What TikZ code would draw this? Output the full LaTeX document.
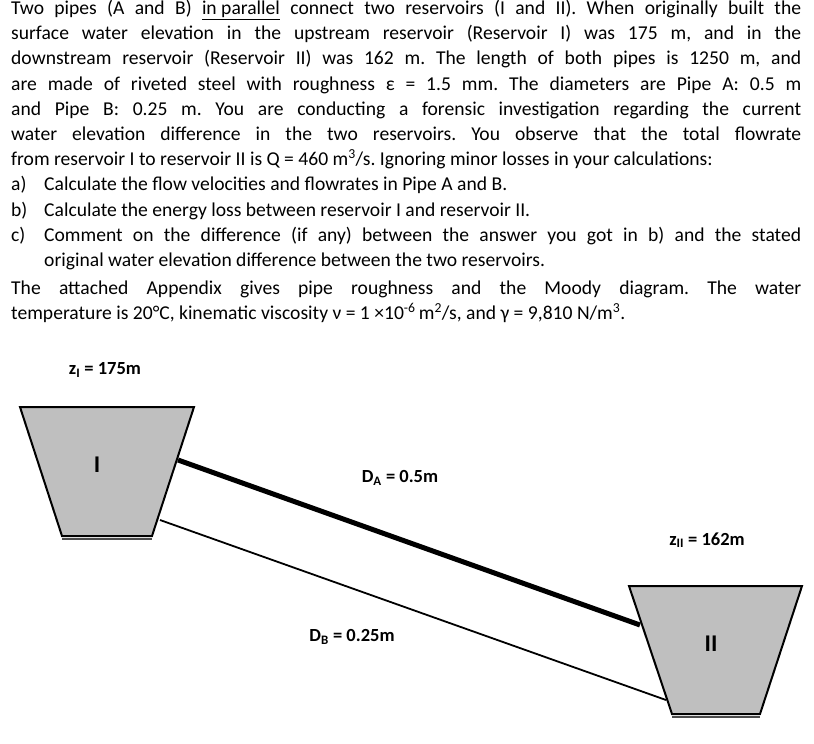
\documentclass[tikz,border=0pt]{standalone}
\usepackage{fontspec}
\setmainfont{Carlito}
\begin{document}
\begin{tikzpicture}[x=1pt,y=-1pt,
  res/.style={draw=black,line width=2pt,fill=black!25,line join=miter},
  lbl/.style={font=\fontsize{18.5}{20}\selectfont\bfseries,inner sep=0},
  pipea/.style={line width=5pt},
  pipeb/.style={line width=1.8pt}]
\useasboundingbox (0,0) rectangle (814,744);
\node[anchor=north west,text width=790pt,align=justify,inner sep=0,
  font=\fontsize{19.6}{25.2}\selectfont\frenchspacing] (txt) at (11,0) {%
Two pipes (A and B) \underline{in parallel} connect two reservoirs (I and II). When originally built the\linebreak
surface water elevation in the upstream reservoir (Reservoir I) was 175 m, and in the\linebreak
downstream reservoir (Reservoir II) was 162 m. The length of both pipes is 1250 m, and\linebreak
are made of riveted steel with roughness ε = 1.5 mm. The diameters are Pipe A: 0.5 m\linebreak
and Pipe B: 0.25 m. You are conducting a forensic investigation regarding the current\linebreak
water elevation difference in the two reservoirs. You observe that the total flowrate\linebreak
from reservoir I to reservoir II is Q = 460 m\textsuperscript{3}/s. Ignoring minor losses in your calculations:\par
\hangindent=33pt\hangafter=1\noindent\makebox[33pt][l]{a)}Calculate the flow velocities and flowrates in Pipe A and B.\par
\hangindent=33pt\hangafter=1\noindent\makebox[33pt][l]{b)}Calculate the energy loss between reservoir I and reservoir II.\par
\hangindent=33pt\hangafter=1\noindent\makebox[33pt][l]{c)}Comment on the difference (if any) between the answer you got in b) and the stated\linebreak
original water elevation difference between the two reservoirs.\par
\vspace{3pt}\noindent The attached Appendix gives pipe roughness and the Moody diagram. The water\linebreak
temperature is 20°C, kinematic viscosity ν = 1 ×10\textsuperscript{-6}\,m\textsuperscript{2}/s, and γ = 9,810 N/m\textsuperscript{3}.\par};
% reservoirs
\draw[res] (20,407) -- (194,407) -- (152,536) -- (62,536) -- cycle;
\draw[res] (629,586) -- (802,586) -- (760,714) -- (672,714) -- cycle;
\draw[line width=2pt,black!70] (62,539) -- (152,539);
\draw[line width=2pt,black!70] (672,717) -- (760,717);
\node[lbl,font=\fontsize{24}{26}\selectfont\bfseries] (rI) at (97,465) {I};
\node[lbl,font=\fontsize{24}{26}\selectfont\bfseries] (rII) at (711,644) {II};
% pipes
\coordinate (a1) at (178,460); \coordinate (a2) at (640,625);
\coordinate (b1) at (160,520); \coordinate (b2) at (666,700);
\draw[pipea] (a1) -- (a2);
\draw[pipeb] (b1) -- (b2);
% labels
\node[lbl] (zI) at (105,370) {z\textsubscript{I} = 175m};
\node[lbl] (zII) at (707,540) {z\textsubscript{II} = 162m};
\node[lbl] (DA) at (400,478) {D\textsubscript{A} = 0.5m};
\node[lbl] (DB) at (352,637) {D\textsubscript{B} = 0.25m};
\end{tikzpicture}
\end{document}
